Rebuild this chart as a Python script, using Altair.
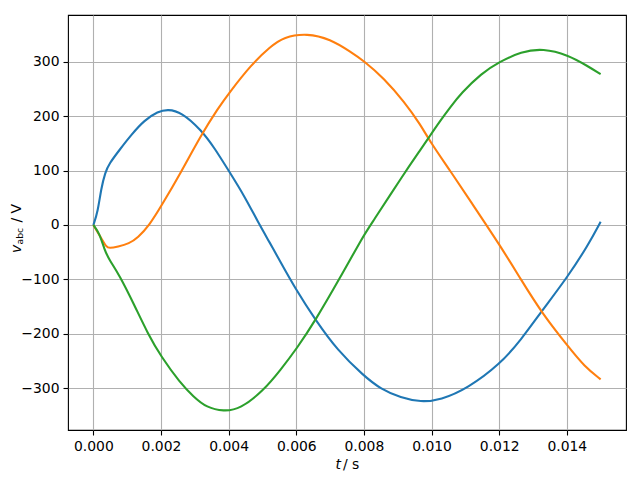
import altair as alt
import pandas as pd

# phase a (blue)
t_a = [0, 0.00013, 0.00023, 0.00035, 0.00047, 0.00077, 0.00112, 0.00151, 0.00191, 0.0022,
       0.0026, 0.00319, 0.00359, 0.0040, 0.00448, 0.00487, 0.00523, 0.00547, 0.00597, 0.00657,
       0.00721, 0.0080, 0.0085, 0.00909, 0.00968, 0.01027, 0.01106, 0.01203, 0.01265,
       0.01324, 0.01403, 0.01463, 0.0150]
v_a = [0, 24, 67, 97, 113, 138, 166, 193, 209, 213,
       208, 175, 141, 100, 52, 5, -34, -61, -117, -175,
       -230, -278, -302, -318, -326, -322, -301, -256, -211,
       -160, -95, -37, 6]

# phase b (orange)
t_b = [0, 0.00023, 0.00038, 0.00047, 0.00072, 0.00106, 0.00131, 0.00166, 0.0020, 0.0026,
       0.00319, 0.00369, 0.0040, 0.00468, 0.00523, 0.00563, 0.00632, 0.00701, 0.0076, 0.0080,
       0.00859, 0.00919, 0.00968, 0.00993, 0.01057, 0.01116, 0.01202, 0.01265,
       0.01324, 0.01403, 0.01453, 0.0150]
v_b = [0, -24, -40, -43, -40, -34, -24, 0, 34, 98,
       166, 215, 242, 296, 328, 346, 353, 342, 319, 302,
       270, 227, 184, 156, 98, 43, -37, -101,
       -160, -223, -261, -284]

# phase c (green)
t_c = [0, 0.00018, 0.00033, 0.00047, 0.00077, 0.00121, 0.00161, 0.0020, 0.00256, 0.00296,
       0.00335, 0.00385, 0.00434, 0.00504, 0.00553, 0.00602, 0.00657, 0.00726, 0.0080,
       0.0082, 0.00919, 0.00968, 0.00993, 0.01027, 0.01057, 0.01087, 0.01147, 0.0120, 0.01265, 0.0133,
       0.01403, 0.01463, 0.0150]
v_c = [0, -15, -46, -64, -92, -147, -200, -242, -290, -316,
       -336, -343, -339, -304, -267, -227, -175, -101, -18,
       0, 95, 139, 162, 193, 218, 242, 279, 300, 319, 325,
       313, 292, 277.5]

x_ticks = [0.000, 0.002, 0.004, 0.006, 0.008, 0.010, 0.012, 0.014]
y_ticks = [-300, -200, -100, 0, 100, 200, 300]

phases = ["a", "b", "c"]
colors = ["#1f77b4", "#ff7f0e", "#2ca02c"]

df = pd.concat([
    pd.DataFrame({"t": t_a, "v": v_a, "phase": "a"}),
    pd.DataFrame({"t": t_b, "v": v_b, "phase": "b"}),
    pd.DataFrame({"t": t_c, "v": v_c, "phase": "c"}),
], ignore_index=True)

FONT = "DejaVu Sans"
FS = 13.9

lines = alt.Chart(df).mark_line(strokeWidth=2.1, interpolate="basis", clip=True).encode(
    x=alt.X("t:Q",
            scale=alt.Scale(domain=[-0.00075, 0.01575], nice=False, zero=False),
            axis=alt.Axis(values=x_ticks, format=".3f", title=None)),
    y=alt.Y("v:Q",
            scale=alt.Scale(domain=[-377.3, 386.5], nice=False, zero=False),
            axis=alt.Axis(values=y_ticks, format="d", title=None)),
    color=alt.Color("phase:N", scale=alt.Scale(domain=phases, range=colors), legend=None),
)

def label(txt, x, y, size=FS, angle=0, italic=False, align="left"):
    kw = dict(font=FONT, fontSize=size, color="black", align=align,
              baseline="alphabetic", angle=angle)
    if italic:
        kw["fontStyle"] = "italic"
    return alt.Chart(pd.DataFrame({"s": [txt]})).mark_text(**kw).encode(
        text="s:N", x=alt.value(x), y=alt.value(y))

xl1 = label("t", 273, 454, italic=True, align="right")
xl2 = label("/ s", 275, 454)
yl1 = label("v", -47.5, 238, angle=270, italic=True)
yl2 = label("abc", -45, 229.5, size=9.3, angle=270)
yl3 = label("/ V", -47.5, 207.5, angle=270)

chart = alt.layer(lines, xl1, xl2, yl1, yl2, yl3).properties(
    width=558, height=415,
    autosize=alt.AutoSizeParams(type="none"),
    padding={"left": 60, "top": 7, "right": 6, "bottom": 42},
).configure_view(
    stroke="black", strokeWidth=1.1
).configure_axis(
    grid=True, gridColor="#b0b0b0", gridWidth=1.1,
    domain=False,
    ticks=True, tickColor="black", tickSize=5, tickWidth=1.1,
    labelFont=FONT, labelFontSize=FS, labelColor="black", labelPadding=4,
)

chart.save("out.html", embed_options={"renderer": "svg", "actions": False})
